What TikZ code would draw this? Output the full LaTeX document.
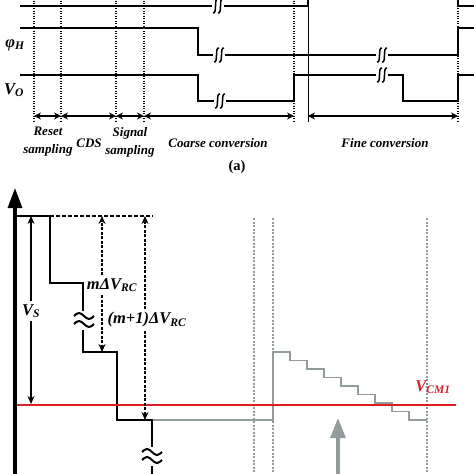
\documentclass[tikz,border=0pt]{standalone}
\usepackage{fontspec}
\setmainfont{Liberation Serif}
\usetikzlibrary{arrows.meta, positioning}
\definecolor{stepgray}{RGB}{146,156,156}
\definecolor{cmred}{RGB}{222,30,36}
\tikzstyle{tlabel} = [
  font=\fontsize{13}{18}\selectfont\bfseries\itshape,
  text centered, align=center, inner sep=1pt
]
\tikzstyle{siglabel} = [
  font=\fontsize{16.5}{18}\selectfont\bfseries\itshape, inner sep=1pt
]
\tikzstyle{vlabel} = [
  font=\fontsize{16.5}{18}\selectfont\bfseries\itshape, inner sep=3pt
]
\tikzset{
  wave/.style={line width=1.7pt},
  guide/.style={line width=1.1pt, dash pattern=on 1.3pt off 1.2pt},
  grayguide/.style={stepgray, line width=1.2pt, dash pattern=on 2pt off 1.5pt},
  span/.style={
    line width=1.3pt,
    {Stealth[length=7pt,width=7pt]}-{Stealth[length=7pt,width=7pt]}
  },
  dimarrow/.style={line width=1.5pt, -{Stealth[length=8pt,width=7pt]}},
  dimdash/.style={dimarrow, dash pattern=on 3pt off 1.5pt}
}
% break marks on the signal lines
\newcommand{\vbrk}[2]{%
  \fill[white] (#1-6,#2-9) rectangle (#1+6,#2+9);
  \draw[line width=1.5pt] (#1,#2-7) .. controls (#1-4.5,#2-8) and (#1-0.5,#2+8) .. (#1-5,#2+7);
  \draw[line width=1.5pt] (#1+5,#2-7) .. controls (#1+0.5,#2-8) and (#1+4.5,#2+8) .. (#1,#2+7);
}
\newcommand{\hbrk}[2]{%
  \fill[white] (#1-11,#2-9.5) rectangle (#1+11,#2+9.5);
  \draw[line width=2pt] (#1-10,#2-4) sin (#1-5,#2-7) cos (#1,#2-4) sin (#1+5,#2-1) cos (#1+10,#2-4);
  \draw[line width=2pt] (#1-10,#2+4) sin (#1-5,#2+1) cos (#1,#2+4) sin (#1+5,#2+7) cos (#1+10,#2+4);
}

\begin{document}
\begin{tikzpicture}[x=1pt, y=-1pt]
\useasboundingbox (0,0) rectangle (474,474);

% ------------------------------------------------
% (a) TIMING – guides and waveforms
% ------------------------------------------------

\foreach \gx in {34,61,116,144,294,458}
  \draw[guide] (\gx,-2) -- (\gx,122);
\draw[line width=0.8pt] (308,-2) -- (308,122);

\draw[wave] (20,6) -- (307.5,6) -- (307.5,-14);
\draw[wave] (458,-14) -- (458,6) -- (476,6);
\vbrk{218}{6}

\draw[wave] (20,28) -- (198,28) -- (198,55) -- (458,55) -- (458,28) -- (476,28);
\vbrk{219}{55}
\vbrk{382}{55}

\draw[wave] (20,75) -- (198,75) -- (198,101) -- (294,101) -- (294,75)
  -- (403,75) -- (403,101) -- (458,101) -- (458,75) -- (476,75);
\vbrk{220}{101}
\vbrk{382}{75}

\node[siglabel] (phil) at (15,-6) {φ\textsubscript{L}};
\node[siglabel] (phih) at (15,45) {φ\textsubscript{H}};
\node[siglabel] (vo) at (14,90) {V\textsubscript{O}};

% ------------------------------------------------
% (a) TIMING – phases
% ------------------------------------------------

\coordinate (s0) at (34,116);
\coordinate (s1) at (61,116);
\coordinate (s2) at (116,116);
\coordinate (s3) at (144,116);
\coordinate (s4) at (294,116);
\coordinate (s5) at (308,116);
\coordinate (s6) at (458,116);

\draw[span] (s0) -- (s1);
\draw[span] (s1) -- (s2);
\draw[span] (s2) -- (s3);
\draw[span] (s3) -- (s4);
\draw[span] (s5) -- (s6);

\node[tlabel] (reset) at (48,142) {Reset\\sampling};
\node[tlabel] (cds) at (89,143) {CDS};
\node[tlabel] (signal) at (130,142) {Signal\\sampling};
\node[tlabel] (coarse) at (218,143) {Coarse conversion};
\node[tlabel] (fine) at (385,143) {Fine conversion};
\node[font=\fontsize{14.5}{16}\selectfont\bfseries] (capa) at (237,167) {(a)};

% ------------------------------------------------
% (b) CONVERSION – steps
% ------------------------------------------------

\foreach \gx in {254,273,427}
  \draw[grayguide] (\gx,218) -- (\gx,480);

\draw[stepgray, line width=1.6pt] (152,420) -- (273,420) -- (273,352)
  -- (290,352) -- (290,360.5) -- (307,360.5) -- (307,369) -- (324,369)
  -- (324,377.5) -- (341,377.5) -- (341,386) -- (358,386) -- (358,394.5)
  -- (375,394.5) -- (375,403) -- (392,403) -- (392,411.5) -- (409,411.5)
  -- (409,420) -- (427,420);

\draw[line width=2.2pt] (15,216) -- (50,216);
\draw[line width=2pt, dash pattern=on 4pt off 2pt] (50,216) -- (153,216);
\draw[line width=2.2pt] (50,216) -- (50,283) -- (83,283) -- (83,352)
  -- (117,352) -- (117,420) -- (152,420) -- (152,480);
\hbrk{84}{320}
\hbrk{152}{456}

\draw[cmred, line width=1.7pt] (15,405) -- (456,405);
\node[siglabel, text=cmred] (vcm) at (433,387) {V\textsubscript{CM1}};

\draw[line width=3.2pt, -{Triangle[length=20pt,width=14pt]}] (15,480) -- (15,188);
\draw[stepgray, line width=3.2pt, -{Triangle[length=20pt,width=15pt]}] (338,480) -- (338,418);

% ------------------------------------------------
% (b) CONVERSION – dimensions
% ------------------------------------------------

\coordinate (vtop) at (31,216);
\coordinate (vbot) at (31,404);
\node[vlabel] (vs) at (31,311) {V\textsubscript{S}};
\draw[dimarrow] (vs.north) -- (vtop);
\draw[dimarrow] (vs.south) -- (vbot);

\coordinate (mtop) at (102,216);
\coordinate (mbot) at (102,352);
\node[vlabel] (mdv) at (112,285) {mΔV\textsubscript{RC}};
\draw[dimdash] (mdv.north -| mtop) -- (mtop);
\draw[dimdash] (mdv.south -| mbot) -- (mbot);

\coordinate (ntop) at (145,216);
\coordinate (nbot) at (145,420);
\node[vlabel] (ndv) at (147,320) {(m+1)ΔV\textsubscript{RC}};
\draw[dimdash] (ndv.north -| ntop) -- (ntop);
\draw[dimdash] (ndv.south -| nbot) -- (nbot);

\end{tikzpicture}
\end{document}
